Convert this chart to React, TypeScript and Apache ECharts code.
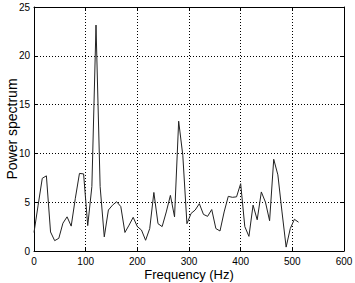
import React, { useEffect, useRef } from "react";
import * as echarts from "echarts";

const frequencies: number[] = [
  0, 8, 16, 24, 32, 40, 48, 56, 64, 72, 80, 88, 96, 104, 112, 120, 128, 136, 144, 152,
  160, 168, 176, 184, 192, 200, 208, 216, 224, 232, 240, 248, 256, 264, 272, 280, 288, 296, 304, 312,
  320, 328, 336, 344, 352, 360, 368, 376, 384, 392, 400, 408, 416, 424, 432, 440, 448, 456, 464, 472,
  480, 488, 496, 504, 512,
];

const power: number[] = [
  1.9, 4.7, 7.45, 7.7, 1.95, 1.06, 1.3, 2.85, 3.5, 2.55,
  5.4, 7.95, 7.9, 2.6, 6.6, 23.15, 6.6, 1.45, 4.2, 4.7,
  5.05, 4.55, 1.9, 2.65, 3.45, 2.5, 2.15, 1.1, 2.3, 6.0,
  2.8, 2.5, 4.0, 5.7, 3.5, 13.3, 9.8, 2.8, 3.85, 4.2,
  4.85, 3.75, 3.55, 4.25, 2.3, 2.05, 4.0, 5.6, 5.5, 5.55,
  6.9, 2.5, 1.5, 4.7, 3.2, 6.05, 5.0, 3.1, 9.4, 7.8,
  4.0, 0.4, 2.3, 3.25, 2.95,
];

const xTicks = { min: 0, max: 600, interval: 100 };
const yTicks = { min: 0, max: 25, interval: 5 };

const FONT = "Liberation Sans, Arial, Helvetica, sans-serif";

export default function App() {
  const ref = useRef<HTMLDivElement>(null);

  useEffect(() => {
    if (!ref.current) return;
    const chart = echarts.init(ref.current, undefined, { renderer: "svg" });
    const tickCommon = { show: true, inside: true, length: 4, lineStyle: { color: "#000", width: 1 } };
    const axisLineCommon = { show: true, onZero: false, lineStyle: { color: "#000", width: 1 } };
    chart.setOption({
      animation: false,
      backgroundColor: "#fff",
      grid: {
        left: 34,
        right: 11,
        top: 7,
        bottom: 32,
        containLabel: false,
        outerBoundsMode: "none",
      },
      xAxis: [
        {
          type: "value",
          min: xTicks.min,
          max: xTicks.max,
          interval: xTicks.interval,
          position: "bottom",
          name: "Frequency (Hz)",
          nameLocation: "middle",
          nameGap: 23,
          nameMoveOverlap: false,
          nameTextStyle: { fontFamily: FONT, fontSize: 13, color: "#000", verticalAlign: "middle" },
          axisLine: axisLineCommon,
          axisTick: tickCommon,
          axisLabel: { fontFamily: FONT, fontSize: 10, color: "#000", margin: 5 },
          splitLine: { show: true, lineStyle: { color: "#000", type: [1, 2], width: 1 } },
        },
        {
          type: "value",
          min: xTicks.min,
          max: xTicks.max,
          interval: xTicks.interval,
          position: "top",
          axisLine: axisLineCommon,
          axisTick: tickCommon,
          axisLabel: { show: false },
          splitLine: { show: false },
        },
      ],
      yAxis: [
        {
          type: "value",
          min: yTicks.min,
          max: yTicks.max,
          interval: yTicks.interval,
          position: "left",
          name: "Power spectrum",
          nameLocation: "middle",
          nameGap: 22,
          nameRotate: 90,
          nameMoveOverlap: false,
          nameTextStyle: { fontFamily: FONT, fontSize: 14, color: "#000", verticalAlign: "middle" },
          axisLine: axisLineCommon,
          axisTick: tickCommon,
          axisLabel: { fontFamily: FONT, fontSize: 10, color: "#000", margin: 4 },
          splitLine: { show: true, lineStyle: { color: "#000", type: [1, 2], width: 1 } },
        },
        {
          type: "value",
          min: yTicks.min,
          max: yTicks.max,
          interval: yTicks.interval,
          position: "right",
          axisLine: axisLineCommon,
          axisTick: tickCommon,
          axisLabel: { show: false },
          splitLine: { show: false },
        },
      ],
      series: [
        {
          type: "line",
          xAxisIndex: 0,
          yAxisIndex: 0,
          data: frequencies.map((f, i) => [f, power[i]]),
          showSymbol: false,
          symbol: "none",
          lineStyle: { color: "#222", width: 1 },
        },
      ],
    });
    return () => chart.dispose();
  }, []);

  return (
    <div
      ref={ref}
      style={{ position: "fixed", left: 0, top: 0, width: 355, height: 283, background: "#fff" }}
    />
  );
}
